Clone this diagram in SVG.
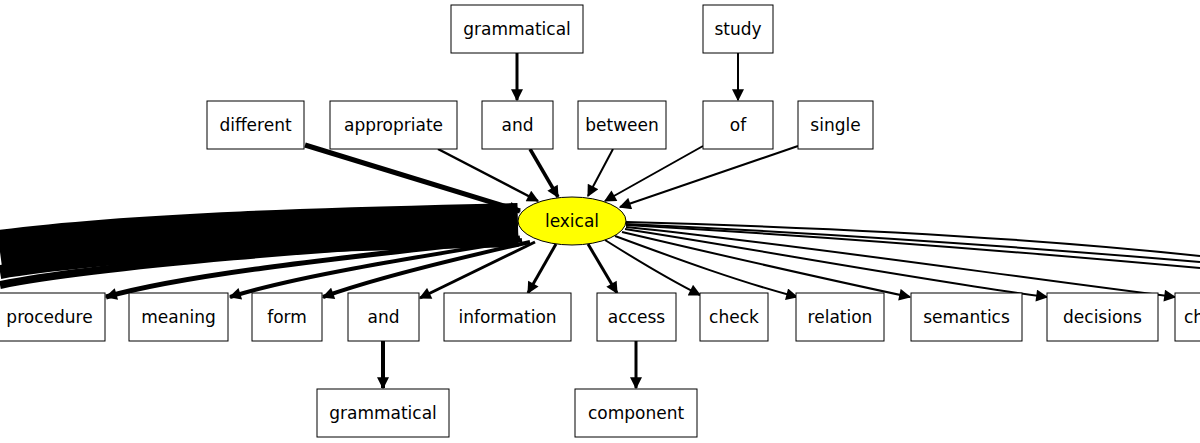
<svg xmlns="http://www.w3.org/2000/svg" width="1200" height="443" viewBox="0 0 1200 443">
<style>
.n rect{fill:#fff;stroke:#000;stroke-width:1}
text{font-family:"DejaVu Sans",sans-serif;font-size:17px;text-anchor:middle;fill:#000}
#edges path{fill:none;stroke:#000}
</style>
<defs>
<marker id="a" viewBox="0 0 10 10" refX="9" refY="5" markerWidth="14" markerHeight="12" markerUnits="userSpaceOnUse" orient="auto"><path d="M0,0L10,5L0,10z" fill="#000"/></marker>
</defs>
<rect width="1200" height="443" fill="#fff"/>
<g id="edges">
<path d="M518,225 C400,228 150,232 0,252" stroke-width="44"/>
<path d="M518,232 C350,240 100,255 0,272" stroke-width="14"/>
<path d="M518,236 C350,245 100,265 0,285" stroke-width="8"/>
<path d="M520,238 C420,250 200,270 106,297" stroke-width="5" marker-end="url(#a)"/>
<path d="M522,240 C430,255 300,275 230,297" stroke-width="4" marker-end="url(#a)"/>
<path d="M530,242 C450,260 370,280 323,297" stroke-width="4" marker-end="url(#a)"/>
<path d="M535,242 L420,298" stroke-width="3" marker-end="url(#a)"/>
<path d="M556,244 L528,293" stroke-width="3" marker-end="url(#a)"/>
<path d="M588,244 L617,293" stroke-width="3" marker-end="url(#a)"/>
<path d="M605,240 C640,262 670,280 700,295" stroke-width="2" marker-end="url(#a)"/>
<path d="M615,236 C680,260 740,282 797,297" stroke-width="2" marker-end="url(#a)"/>
<path d="M622,232 C720,255 830,280 910,297" stroke-width="2" marker-end="url(#a)"/>
<path d="M625,229 C760,250 920,280 1047,297" stroke-width="2" marker-end="url(#a)"/>
<path d="M626,227 C800,245 1000,275 1175,297" stroke-width="2" marker-end="url(#a)"/>
<path d="M626,225 C800,235 1000,250 1200,268" stroke-width="2"/>
<path d="M626,224 C800,232 1000,245 1200,262" stroke-width="2"/>
<path d="M626,222 C850,228 1050,240 1200,256" stroke-width="2"/>
<path d="M305,145 L520,211" stroke-width="5" marker-end="url(#a)"/>
<path d="M438,149 L538,201" stroke-width="2.5" marker-end="url(#a)"/>
<path d="M530,149 L558,197" stroke-width="3.5" marker-end="url(#a)"/>
<path d="M613,149 L588,196" stroke-width="2" marker-end="url(#a)"/>
<path d="M703,146 L605,201" stroke-width="2" marker-end="url(#a)"/>
<path d="M798,146 L620,207" stroke-width="2" marker-end="url(#a)"/>
<path d="M517,53 L517,100" stroke-width="3" marker-end="url(#a)"/>
<path d="M738,53 L738,100" stroke-width="2" marker-end="url(#a)"/>
<path d="M383,341 L383,388" stroke-width="4" marker-end="url(#a)"/>
<path d="M636,341 L636,388" stroke-width="3" marker-end="url(#a)"/>
</g>
<g id="lexical"><ellipse cx="572" cy="221" rx="54" ry="24" fill="#ff0" stroke="#000"/><text x="572" y="227">lexical</text></g>
<g id="grammatical1" class="n"><rect x="451" y="5" width="132" height="48"/><text x="517" y="35">grammatical</text></g>
<g id="study" class="n"><rect x="703" y="5" width="70" height="48"/><text x="738" y="35">study</text></g>
<g id="different" class="n"><rect x="207" y="101" width="97" height="48"/><text x="255.5" y="131">different</text></g>
<g id="appropriate" class="n"><rect x="330" y="101" width="127" height="48"/><text x="393.5" y="131">appropriate</text></g>
<g id="and1" class="n"><rect x="482" y="101" width="71" height="48"/><text x="517.5" y="131">and</text></g>
<g id="between" class="n"><rect x="578" y="101" width="88" height="48"/><text x="622" y="131">between</text></g>
<g id="of" class="n"><rect x="703" y="101" width="70" height="48"/><text x="738" y="131">of</text></g>
<g id="single" class="n"><rect x="798" y="101" width="75" height="48"/><text x="835.5" y="131">single</text></g>
<g id="procedure" class="n"><rect x="-6" y="293" width="111" height="48"/><text x="49.5" y="323">procedure</text></g>
<g id="meaning" class="n"><rect x="129" y="293" width="99" height="48"/><text x="178.5" y="323">meaning</text></g>
<g id="form" class="n"><rect x="252" y="293" width="70" height="48"/><text x="287" y="323">form</text></g>
<g id="and2" class="n"><rect x="348" y="293" width="71" height="48"/><text x="383.5" y="323">and</text></g>
<g id="information" class="n"><rect x="444" y="293" width="127" height="48"/><text x="507.5" y="323">information</text></g>
<g id="access" class="n"><rect x="597" y="293" width="79" height="48"/><text x="636.5" y="323">access</text></g>
<g id="check" class="n"><rect x="700" y="293" width="68" height="48"/><text x="734" y="323">check</text></g>
<g id="relation" class="n"><rect x="796" y="293" width="88" height="48"/><text x="840" y="323">relation</text></g>
<g id="semantics" class="n"><rect x="911" y="293" width="111" height="48"/><text x="966.5" y="323">semantics</text></g>
<g id="decisions" class="n"><rect x="1047" y="293" width="111" height="48"/><text x="1102.5" y="323">decisions</text></g>
<g id="ch" class="n"><rect x="1175" y="293" width="80" height="48"/><text x="1184" y="323" style="text-anchor:start">ch</text></g>
<g id="grammatical2" class="n"><rect x="317" y="389" width="132" height="48"/><text x="383" y="419">grammatical</text></g>
<g id="component" class="n"><rect x="575" y="389" width="122" height="48"/><text x="636" y="419">component</text></g>
</svg>
